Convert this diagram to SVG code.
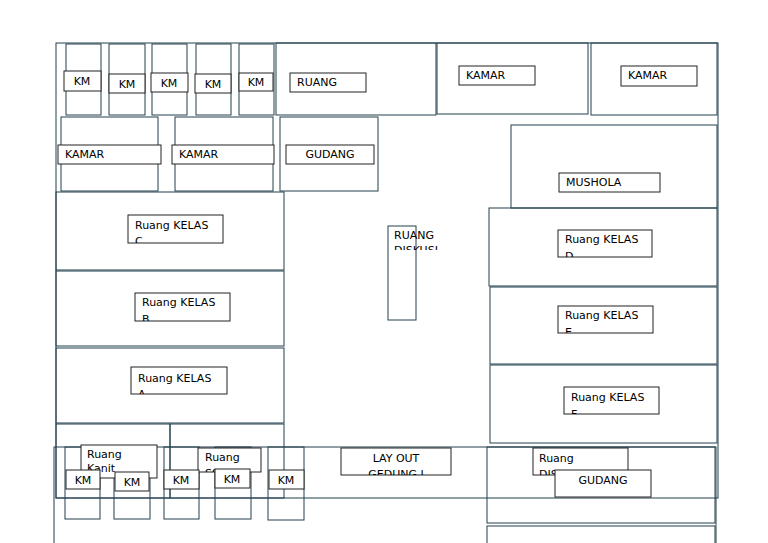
<svg xmlns="http://www.w3.org/2000/svg" width="768" height="543" viewBox="0 0 768 543">
<style>
.r{fill:none;stroke:#23404f;stroke-width:1}
.l{fill:#fff;stroke:#222;stroke-width:1}
text{font-family:"DejaVu Sans",sans-serif;font-size:11px;fill:#000}
.c{text-anchor:middle}
</style>
<rect width="768" height="543" fill="#fff"/>
<g id="outline">
<rect class="r" x="56" y="43" width="662" height="455"/>
<rect class="r" x="54" y="447" width="662" height="110"/>
</g>
<g id="rooms">
<rect class="r" x="66" y="44" width="35" height="71"/>
<rect class="r" x="109" y="44" width="36" height="71"/>
<rect class="r" x="152" y="44" width="35" height="71"/>
<rect class="r" x="196" y="44" width="35" height="71"/>
<rect class="r" x="239" y="44" width="35" height="71"/>
<rect class="r" x="276" y="43" width="160" height="72"/>
<rect class="r" x="437" y="43" width="151" height="71"/>
<rect class="r" x="591" y="43" width="126" height="72"/>
<rect class="r" x="61" y="117" width="97" height="74"/>
<rect class="r" x="175" y="117" width="98" height="74"/>
<rect class="r" x="280" y="117" width="98" height="74"/>
<rect class="r" x="511" y="125" width="206" height="83"/>
<rect class="r" x="56" y="192" width="228" height="78"/>
<rect class="r" x="56" y="271" width="228" height="75"/>
<rect class="r" x="56" y="348" width="228" height="75"/>
<rect class="r" x="56" y="424" width="114" height="74"/>
<rect class="r" x="170" y="424" width="114" height="74"/>
<rect class="r" x="489" y="208" width="228" height="78"/>
<rect class="r" x="490" y="287" width="227" height="77"/>
<rect class="r" x="490" y="365" width="227" height="78"/>
<rect class="r" x="388" y="226" width="28" height="94"/>
<rect class="r" x="65" y="447" width="35" height="72"/>
<rect class="r" x="114" y="447" width="36" height="72"/>
<rect class="r" x="164" y="447" width="35" height="72"/>
<rect class="r" x="215" y="447" width="36" height="72"/>
<rect class="r" x="268" y="447" width="36" height="73"/>
<rect class="r" x="487" y="447" width="228" height="76"/>
<rect class="r" x="487" y="526" width="228" height="30"/>
</g>
<g id="labels">
<rect class="l" x="64" y="71" width="37" height="20"/><text class="c" x="82" y="85">KM</text>
<rect class="l" x="109" y="74" width="36" height="19"/><text class="c" x="127" y="88">KM</text>
<rect class="l" x="151" y="73" width="37" height="19"/><text class="c" x="169" y="87">KM</text>
<rect class="l" x="195" y="74" width="36" height="19"/><text class="c" x="213" y="88">KM</text>
<rect class="l" x="239" y="73" width="34" height="18"/><text class="c" x="256" y="86">KM</text>
<rect class="l" x="290" y="73" width="76" height="19"/><text x="297" y="86">RUANG</text>
<rect class="l" x="459" y="66" width="76" height="19"/><text x="466" y="79">KAMAR</text>
<rect class="l" x="621" y="66" width="76" height="20"/><text x="628" y="79">KAMAR</text>
<rect class="l" x="58" y="145" width="103" height="19"/><text x="65" y="158">KAMAR</text>
<rect class="l" x="172" y="145" width="102" height="19"/><text x="179" y="158">KAMAR</text>
<rect class="l" x="286" y="145" width="88" height="19"/><text class="c" x="330" y="158">GUDANG</text>
<rect class="l" x="559" y="173" width="101" height="19"/><text x="566" y="186">MUSHOLA</text>
<rect class="l" x="128" y="215" width="95" height="28"/><svg x="128" y="215" width="95" height="28"><text x="7" y="14">Ruang KELAS</text><text x="7" y="30">C</text></svg>
<rect class="l" x="135" y="293" width="95" height="28"/><svg x="135" y="293" width="95" height="28"><text x="7" y="13">Ruang KELAS</text><text x="7" y="30">B</text></svg>
<rect class="l" x="131" y="367" width="96" height="27"/><svg x="131" y="367" width="96" height="27"><text x="7" y="15">Ruang KELAS</text><text x="7" y="31">A</text></svg>
<rect class="l" x="558" y="230" width="94" height="27"/><svg x="558" y="230" width="94" height="27"><text x="7" y="13">Ruang KELAS</text><text x="7" y="30">D</text></svg>
<rect class="l" x="558" y="306" width="95" height="27"/><svg x="558" y="306" width="95" height="27"><text x="7" y="13">Ruang KELAS</text><text x="7" y="30">E</text></svg>
<rect class="l" x="564" y="387" width="95" height="27"/><svg x="564" y="387" width="95" height="27"><text x="7" y="14">Ruang KELAS</text><text x="7" y="31">F</text></svg>
<svg x="388" y="226" width="60" height="24"><text x="6" y="13">RUANG</text><text x="6" y="28">DISKUSI</text></svg>
<rect class="l" x="81" y="445" width="76" height="33"/><svg x="81" y="445" width="76" height="33"><text x="6" y="13">Ruang</text><text x="6" y="27">Kanit</text></svg>
<rect class="l" x="198" y="448" width="63" height="24"/><svg x="198" y="448" width="63" height="24"><text x="7" y="13">Ruang</text><text x="7" y="29">SS</text></svg>
<rect class="l" x="341" y="448" width="110" height="27"/><svg x="341" y="448" width="110" height="27"><text class="c" x="55" y="14">LAY OUT</text><text class="c" x="55" y="30">GEDUNG I</text></svg>
<rect class="l" x="533" y="448" width="95" height="27"/><svg x="533" y="448" width="95" height="27"><text x="6" y="14">Ruang</text><text x="6" y="30">DISKUSI</text></svg>
<rect class="l" x="555" y="470" width="96" height="27"/><text class="c" x="603" y="484">GUDANG</text>
<rect class="l" x="66" y="470" width="34" height="19"/><text class="c" x="83" y="484">KM</text>
<rect class="l" x="115" y="472" width="34" height="19"/><text class="c" x="132" y="486">KM</text>
<rect class="l" x="164" y="470" width="35" height="19"/><text class="c" x="181" y="484">KM</text>
<rect class="l" x="215" y="469" width="35" height="19"/><text class="c" x="232" y="483">KM</text>
<rect class="l" x="269" y="470" width="35" height="19"/><text class="c" x="286" y="484">KM</text>
</g>
<g id="connectors"/>
</svg>
